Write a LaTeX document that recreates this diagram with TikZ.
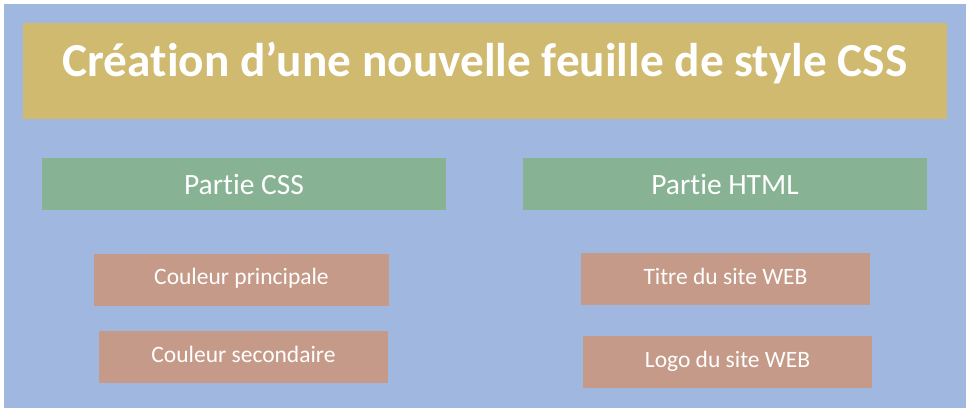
\documentclass[tikz,border=0pt]{standalone}
\usepackage{fontspec}
\setmainfont[Ligatures=NoCommon]{Carlito}
\usetikzlibrary{positioning}
\definecolor{fondBleu}{HTML}{A0B7DF}
\definecolor{titreOr}{HTML}{CFBA6F}
\definecolor{partieVert}{HTML}{87B293}
\definecolor{itemBrun}{HTML}{C59A88}
\begin{document}
\begin{tikzpicture}
[x=1pt,y=-1pt,
  titleDecorate/.style={fill=titreOr,text=white,inner sep=0pt,
    minimum width=924pt,minimum height=96pt,text height=54pt,text depth=42pt,
    font=\fontsize{47.3}{57}\selectfont\bfseries},
  partDecorate/.style={fill=partieVert,text=white,inner sep=0pt,
    minimum width=404pt,minimum height=52pt,text height=37pt,text depth=15pt,
    font=\fontsize{29.5}{35}\selectfont},
  itemDecorate/.style={fill=itemBrun,text=white,inner sep=0pt,
    minimum height=52pt,text height=31pt,text depth=21pt,
    font=\fontsize{23.5}{28}\selectfont}]
%% background
\useasboundingbox (0,0) rectangle (968,411);
\fill[fondBleu] (4,4) rectangle (966,408);
%% title
\node (titre) at (485,71) [titleDecorate] {Création d’une nouvelle feuille de style CSS};
%% parts
\node (partieCSS) at (244,184) [partDecorate] {Partie CSS};
\node (partieHTML) at (725,184) [partDecorate] {Partie HTML};
%% items
\foreach \nodename/\x/\y/\w/\txt in {
  couleurP/241.5/280/295/Couleur principale,
  couleurS/243.5/357/289/Couleur secondaire,
  titreSite/725.5/279/289/Titre du site WEB,
  logoSite/727.5/362/289/Logo du site WEB}
{
  \node (\nodename) at (\x,\y) [itemDecorate,minimum width=\w pt] {\txt};
}
\end{tikzpicture}
\end{document}
